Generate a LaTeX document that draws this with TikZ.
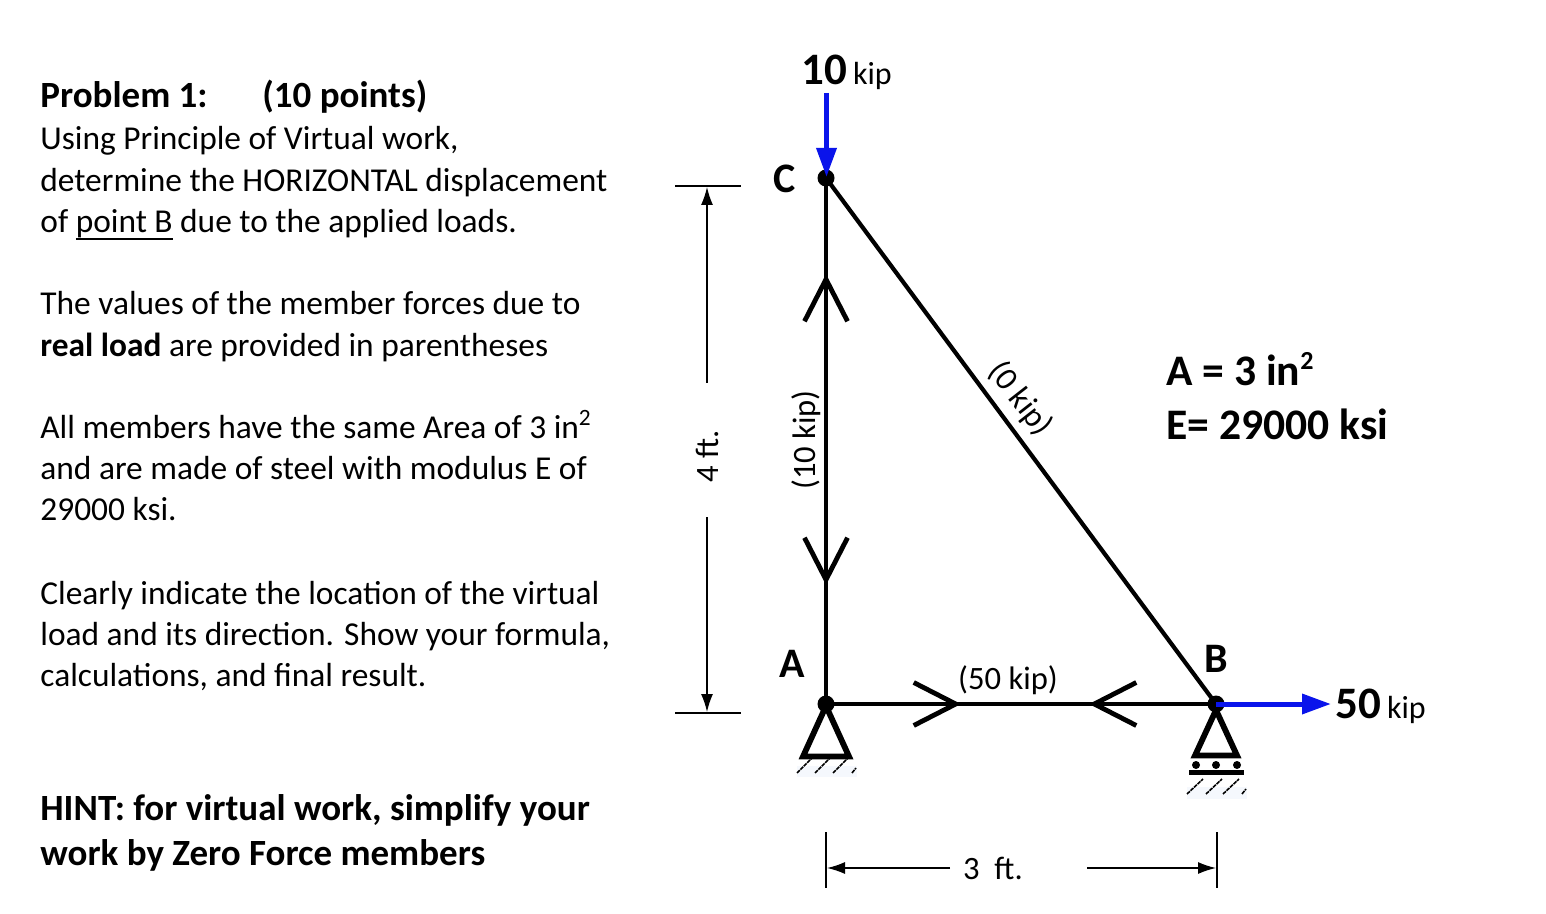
\documentclass[tikz,border=0pt]{standalone}
\usepackage{fontspec}
\setmainfont{Carlito}
\usetikzlibrary{arrows.meta}
\usetikzlibrary{calc}
\tikzset{x=0.5pt,y=-0.5pt}
\tikzset{txt/.style={anchor=base west,inner sep=0pt,font=\fontsize{16.7pt}{18pt}\selectfont}}
\tikzset{hdr/.style={txt,font=\fontsize{18.5pt}{20pt}\selectfont\bfseries}}
\tikzset{lbl/.style={inner sep=0pt,font=\fontsize{16.3pt}{18pt}\selectfont}}
\tikzset{pt/.style={anchor=base,inner sep=0pt,font=\fontsize{21pt}{24pt}\selectfont\bfseries}}
\tikzset{big/.style={anchor=base west,inner sep=0pt,font=\fontsize{21.8pt}{24pt}\selectfont\bfseries}}
\tikzset{member/.style={line width=2.4pt,black}}
\tikzset{chev/.style={member,-{Straight Barb[length=21pt,width=21.5pt,line width=2.4pt]}}}
\tikzset{load/.style={line width=2.5pt,color=loadblue,-{Triangle[length=14.5pt,width=9.75pt,sep=0pt]}}}
\tikzset{dim/.style={line width=0.7pt,-{Latex[length=9pt,width=6pt]}}}
\tikzset{tick/.style={line width=0.7pt}}
\tikzset{sup/.style={line width=2.9pt,miter limit=10}}
\tikzset{hatch/.style={line width=0.8pt,dash pattern=on 2pt off 0.4pt}}
\definecolor{loadblue}{RGB}{10,20,235}
\definecolor{ground}{RGB}{245,248,253}
\newcommand{\thickul}[1]{\setbox0=\hbox{#1}\rlap{\rule[-3.4pt]{\wd0}{1pt}}\box0\relax}
\begin{document}
\begin{tikzpicture}
\useasboundingbox (0,0) rectangle (1546,914);

% problem text
\node[hdr] (p1) at (40,108) {Problem 1:};
\node[hdr] (p1b) at (262,108) {(10 points)};
\node[txt] (l1) at (40,150) {Using Principle of Virtual work,};
\node[txt] (l2) at (40,192) {determine the HORIZONTAL displacement};
\node[txt] (l3) at (40,233) {of \thickul{point B} due to the applied loads.};
\node[txt] (l4) at (40,315) {The values of the member forces due to};
\node[txt] (l5) at (40,357) {\textbf{real load} are provided in parentheses};
\node[txt] (l6) at (40,438) {All members have the same Area of 3 in\textsuperscript{2}};
\node[txt] (l7) at (40,479) {and are made of steel with modulus E of};
\node[txt] (l8) at (40,520) {29000 ksi.};
\node[txt] (l9) at (40,604) {Clearly indicate the location of the virtual};
\node[txt] (l10) at (40,645) {load and its direction. Show your formula,};
\node[txt] (l11) at (40,686) {calculations, and final result.};
\node[hdr] (h1) at (40,820) {HINT: for virtual work, simplify your};
\node[hdr] (h2) at (40,865) {work by Zero Force members};

% joints
\coordinate (A) at (826,704);
\coordinate (B) at (1216,704);
\coordinate (C) at (826,178);

% ground shading and hatching
\fill[ground] (797,766) rectangle (857,777);
\fill[ground] (1187,787) rectangle (1247,799);
\foreach \gx in {797,815,833} {
  \draw[hatch] (\gx,773) -- ++(16,-16);
}
\draw[hatch] (852,773) -- ++(4,-5);
\foreach \gx in {1187,1206,1223} {
  \draw[hatch] (\gx,794) -- ++(16,-15);
}
\draw[hatch] (1242,794) -- ++(4,-5);

% supports
\draw[sup] (A) ++(0,2) -- ++(-23,50.5) -- ++(46,0) -- cycle;
\draw[sup] (B) ++(0,6) -- ++(-21,45.5) -- ++(42,0) -- cycle;
\foreach \rx in {1196,1216,1237} {
  \fill (\rx,765) circle[radius=4];
}
\fill (1189,769.5) rectangle (1244,774.5);

% members
\draw[member] (C) -- (A);
\draw[member] (A) -- (B);
\draw[member,line width=2.1pt] (C) -- (B);

% member force arrows
\coordinate (ac1) at (826,274);
\coordinate (ac2) at (826,585);
\coordinate (ab1) at (961,704);
\coordinate (ab2) at (1089,704);
\draw[chev] (A) -- (ac1);
\draw[chev] (C) -- (ac2);
\draw[chev] (A) -- (ab1);
\draw[chev] (B) -- (ab2);

\fill (A) circle[radius=8.5];
\fill (B) circle[radius=8.5];
\fill (C) circle[radius=8.5];

% loads
\coordinate (top) at (826.5,93);
\coordinate (ctip) at (826.5,177);
\coordinate (btip) at (1331,704);
\draw[load] (top) -- (ctip);
\draw[load] (B) -- (btip);

% labels
\node[pt] (na) at (792,677) {A};
\node[pt] (nb) at (1216,672) {B};
\node[pt] (nc) at (785,193) {C};
\node[anchor=base west,inner sep=0pt] (f1) at (801,85) {\fontsize{22.5pt}{24pt}\selectfont\textbf{10}\hspace{3pt}\fontsize{16pt}{18pt}\selectfont kip};
\node[anchor=base west,inner sep=0pt] (f2) at (1335,718) {\fontsize{22.5pt}{24pt}\selectfont\textbf{50}\hspace{3pt}\fontsize{16pt}{18pt}\selectfont kip};
\node[lbl,rotate=90] (m1) at (806,440) {(10 kip)};
\node[lbl,rotate=-52] (m2) at (1020,399) {(0 kip)};
\node[lbl] (m3) at (1008,680) {(50 kip)};
\node[big] (ta) at (1166,386) {A = 3 in\raisebox{0.8ex}{\fontsize{13pt}{14pt}\selectfont 2}};
\node[big] (te) at (1166,439) {E= 29000 ksi};

% dimensions
\coordinate (t1) at (675,186);
\coordinate (t2) at (741,186);
\coordinate (t3) at (675,713);
\coordinate (t4) at (741,713);
\coordinate (d1) at (707,187);
\coordinate (d2) at (707,383);
\coordinate (d3) at (707,517);
\coordinate (d4) at (707,712);
\draw[tick] (t1) -- (t2);
\draw[tick] (t3) -- (t4);
\draw[dim] (d2) -- (d1);
\draw[dim] (d3) -- (d4);
\node[lbl,rotate=90] (h) at (707,456) {4~ft.};
\coordinate (t5) at (826,832);
\coordinate (t6) at (826,888);
\coordinate (t7) at (1217,832);
\coordinate (t8) at (1217,888);
\coordinate (d5) at (827,868);
\coordinate (d6) at (950,868);
\coordinate (d7) at (1087,868);
\coordinate (d8) at (1216,868);
\draw[tick] (t5) -- (t6);
\draw[tick] (t7) -- (t8);
\draw[dim] (d6) -- (d5);
\draw[dim] (d7) -- (d8);
\node[lbl] (w) at (993,868) {3~~ft.};
\end{tikzpicture}
\end{document}
